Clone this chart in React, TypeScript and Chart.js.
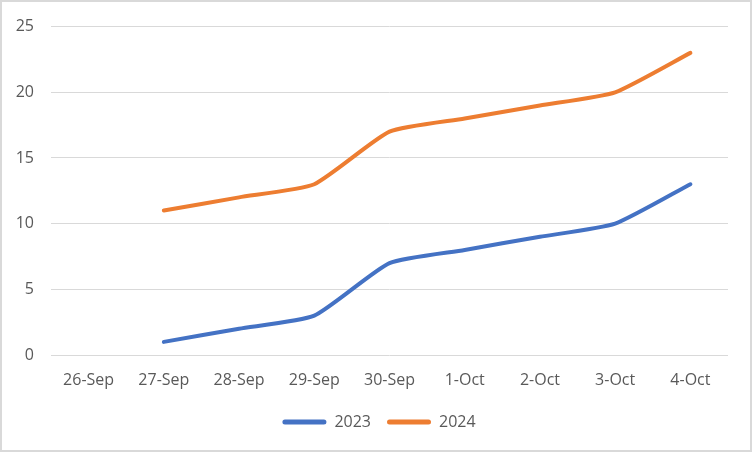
import React, { useEffect, useRef } from "react";
import { Chart, registerables } from "chart.js";

Chart.register(...registerables);

const categories = ["26-Sep", "27-Sep", "28-Sep", "29-Sep", "30-Sep", "1-Oct", "2-Oct", "3-Oct", "4-Oct"];
const series2023: (number | null)[] = [null, 1, 2, 3, 7, 8, 9, 10, 13];
const series2024: (number | null)[] = [null, 11, 12, 13, 17, 18, 19, 20, 23];
const seriesNames = ["2023", "2024"];
const seriesColors = ["#4472C4", "#ED7D31"];
const yMin = 0;
const yMax = 25;
const yStep = 5;

const FONT = "'Open Sans', 'DejaVu Sans', sans-serif";
const TEXT = "#595959";

const shiftLegend = {
  id: "shiftLegend",
  afterLayout(c: any) {
    if (c.legend) {
      c.legend.left += 30;
    }
  },
};

export default function App() {
  const ref = useRef<HTMLCanvasElement>(null);

  useEffect(() => {
    document.body.style.margin = "0";
    const chart = new Chart(ref.current!, {
      type: "line",
      data: {
        labels: categories,
        datasets: [series2023, series2024].map((d, i) => ({
          label: seriesNames[i],
          data: d,
          borderColor: seriesColors[i],
          backgroundColor: seriesColors[i],
          borderWidth: 4,
          pointRadius: 0,
          pointHoverRadius: 0,
          tension: 0.18,
          borderCapStyle: "round" as const,
          borderJoinStyle: "round" as const,
        })),
      },
      plugins: [shiftLegend],
      options: {
        responsive: false,
        animation: false,
        events: [],
        layout: { padding: { top: 23, right: 24, left: 0, bottom: 12 } },
        plugins: {
          tooltip: { enabled: false },
          legend: {
            position: "bottom",
            labels: {
              color: TEXT,
              font: { family: FONT, size: 16 },
              boxWidth: 44,
              boxHeight: 5,
              padding: 16,
              useBorderRadius: true,
              borderRadius: 2.5,
              generateLabels: (c: any) =>
                c.data.datasets.map((ds: any, i: number) => ({
                  text: ds.label,
                  fillStyle: ds.borderColor,
                  strokeStyle: ds.borderColor,
                  lineWidth: 0,
                  hidden: false,
                  datasetIndex: i,
                  borderRadius: 2.5,
                  fontColor: TEXT,
                })),
            },
          },
        },
        scales: {
          x: {
            offset: true,
            grid: { display: false, drawTicks: false },
            border: { display: false },
            ticks: {
              color: TEXT,
              font: { family: FONT, size: 16 },
              padding: 16,
              maxRotation: 0,
              autoSkip: false,
            },
            afterFit: (s: any) => {
              s.height = 43;
            },
          },
          y: {
            min: yMin,
            max: yMax,
            grid: { color: "#d9d9d9", lineWidth: 1, drawTicks: false },
            border: { display: false },
            ticks: {
              stepSize: yStep,
              color: TEXT,
              font: { family: FONT, size: 16 },
              padding: 17,
            },
            afterFit: (s: any) => {
              s.width = 51;
            },
          },
        },
      },
    } as any);
    return () => chart.destroy();
  }, []);

  return (
    <div style={{ position: "relative", width: 752, height: 452, background: "#fff" }}>
      <canvas ref={ref} width={752} height={452} style={{ position: "absolute", left: 0, top: 0 }} />
      <div
        style={{
          position: "absolute",
          left: 0,
          top: 0,
          width: 752,
          height: 452,
          boxSizing: "border-box",
          border: "2px solid #d9d9d9",
          pointerEvents: "none",
        }}
      />
    </div>
  );
}
